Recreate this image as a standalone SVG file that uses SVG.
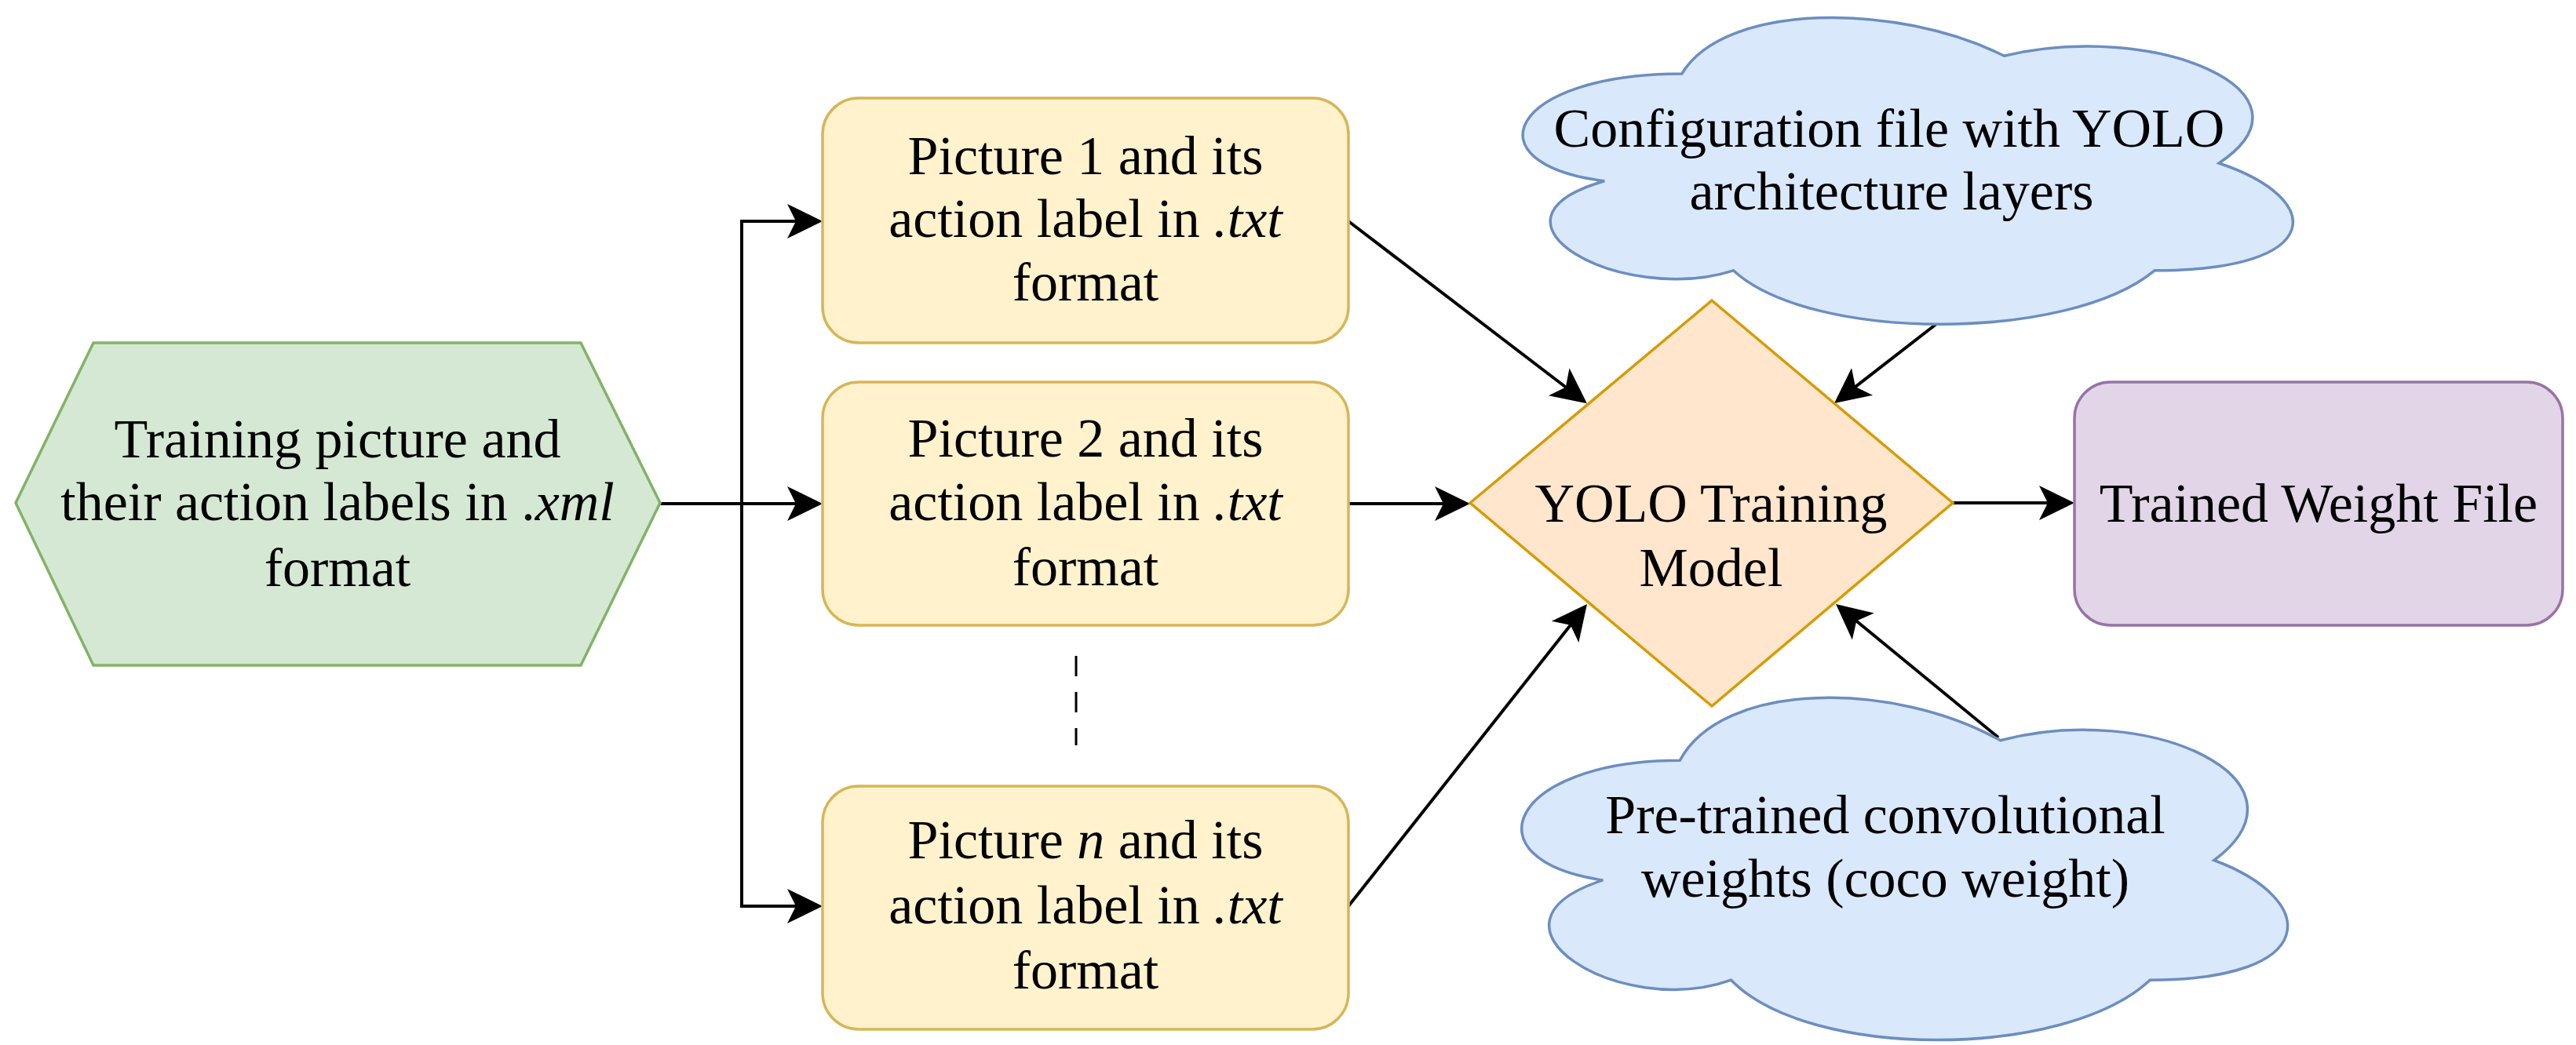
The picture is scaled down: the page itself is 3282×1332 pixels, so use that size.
<svg xmlns="http://www.w3.org/2000/svg" width="3282" height="1332" viewBox="0 0 3282 1332">
<style>
text{font-family:"Liberation Serif","Times New Roman",serif;font-size:70px;fill:#000;text-anchor:middle}
.it{font-style:italic}
.yel{fill:#fff2cc;stroke:#d6b656;stroke-width:3.5}
.grn{fill:#d5e8d4;stroke:#82b366;stroke-width:3.5}
.dia{fill:#ffe6cc;stroke:#d79b00;stroke-width:3.5}
.pur{fill:#e1d5e7;stroke:#9673a6;stroke-width:3.5}
.cld{fill:#dae8fc;stroke:#6c8ebf;stroke-width:3.5}
.con{fill:none;stroke:#000;stroke-width:4;marker-end:url(#arr)}
</style>
<defs>
<marker id="arr" markerUnits="userSpaceOnUse" markerWidth="46" markerHeight="46" refX="25" refY="22" orient="auto" viewBox="0 0 46 44">
<path d="M0,0 L45,22 L0,44 L11,22 Z" fill="#000"/>
</marker>
</defs>
<rect width="3282" height="1332" fill="#fff"/>
<g id="connectors">
<line class="con" x1="841" y1="642" x2="1028" y2="642"/>
<path class="con" d="M945,642 V282 H1028"/>
<path class="con" d="M945,642 V1155 H1028"/>
<line x1="1371" y1="836" x2="1371" y2="950" stroke="#000" stroke-width="3" stroke-dasharray="26 20"/>
<line class="con" x1="1718" y1="282" x2="2006" y2="502"/>
<line class="con" x1="1718" y1="642" x2="1853" y2="642"/>
<line class="con" x1="1718" y1="1155" x2="2009.6" y2="785.7"/>
<line class="con" x1="2467" y1="413" x2="2352.8" y2="501.7"/>
<line class="con" x1="2546" y1="940" x2="2354.5" y2="782.7"/>
<line class="con" x1="2488" y1="641" x2="2623" y2="641"/>
</g>
<g id="source">
<polygon class="grn" points="20,641 119,437 740,437 841,641 740,848 119,848"/>
<text x="430" y="583">Training picture and</text>
<text x="430" y="663">their action labels in .<tspan class="it">xml</tspan></text>
<text x="430" y="747">format</text>
</g>
<g id="picture1">
<rect class="yel" x="1048" y="125" width="670" height="312" rx="46" ry="46"/>
<text x="1383" y="222">Picture 1 and its</text>
<text x="1383" y="302">action label in <tspan class="it">.txt</tspan></text>
<text x="1383" y="383">format</text>
</g>
<g id="picture2">
<rect class="yel" x="1048" y="487" width="670" height="310" rx="46" ry="46"/>
<text x="1383" y="582">Picture 2 and its</text>
<text x="1383" y="663">action label in <tspan class="it">.txt</tspan></text>
<text x="1383" y="746">format</text>
</g>
<g id="picturen">
<rect class="yel" x="1048" y="1002" width="670" height="310" rx="46" ry="46"/>
<text x="1383" y="1094">Picture <tspan class="it">n</tspan> and its</text>
<text x="1383" y="1177">action label in <tspan class="it">.txt</tspan></text>
<text x="1383" y="1260">format</text>
</g>
<g id="config">
<path class="cld" vector-effect="non-scaling-stroke" transform="translate(1869,-20) scale(1095,456)" d="M0.25,0.25 C0.05,0.25 0,0.5 0.16,0.55 C0,0.66 0.18,0.9 0.31,0.8 C0.4,1 0.7,1 0.8,0.8 C1,0.8 1,0.6 0.875,0.5 C1,0.3 0.8,0.1 0.625,0.2 C0.5,0.05 0.3,0.05 0.25,0.25 Z"/>
<text x="2407" y="187">Configuration file with YOLO</text>
<text x="2410" y="267">architecture layers</text>
</g>
<g id="pretrained">
<path class="cld" vector-effect="non-scaling-stroke" transform="translate(1868,842) scale(1089,509)" d="M0.25,0.25 C0.05,0.25 0,0.5 0.16,0.55 C0,0.66 0.18,0.9 0.31,0.8 C0.4,1 0.7,1 0.8,0.8 C1,0.8 1,0.6 0.875,0.5 C1,0.3 0.8,0.1 0.625,0.2 C0.5,0.05 0.3,0.05 0.25,0.25 Z"/>
<text x="2402" y="1062">Pre-trained convolutional</text>
<text x="2402" y="1143">weights (coco weight)</text>
</g>
<g id="yolo">
<polygon class="dia" points="1873,641 2181,383 2488,641 2181,900"/>
<text x="2180" y="665">YOLO Training</text>
<text x="2180" y="747">Model</text>
</g>
<g id="weights">
<rect class="pur" x="2643" y="487" width="622" height="310" rx="46" ry="46"/>
<text x="2954" y="665">Trained Weight File</text>
</g>
</svg>
